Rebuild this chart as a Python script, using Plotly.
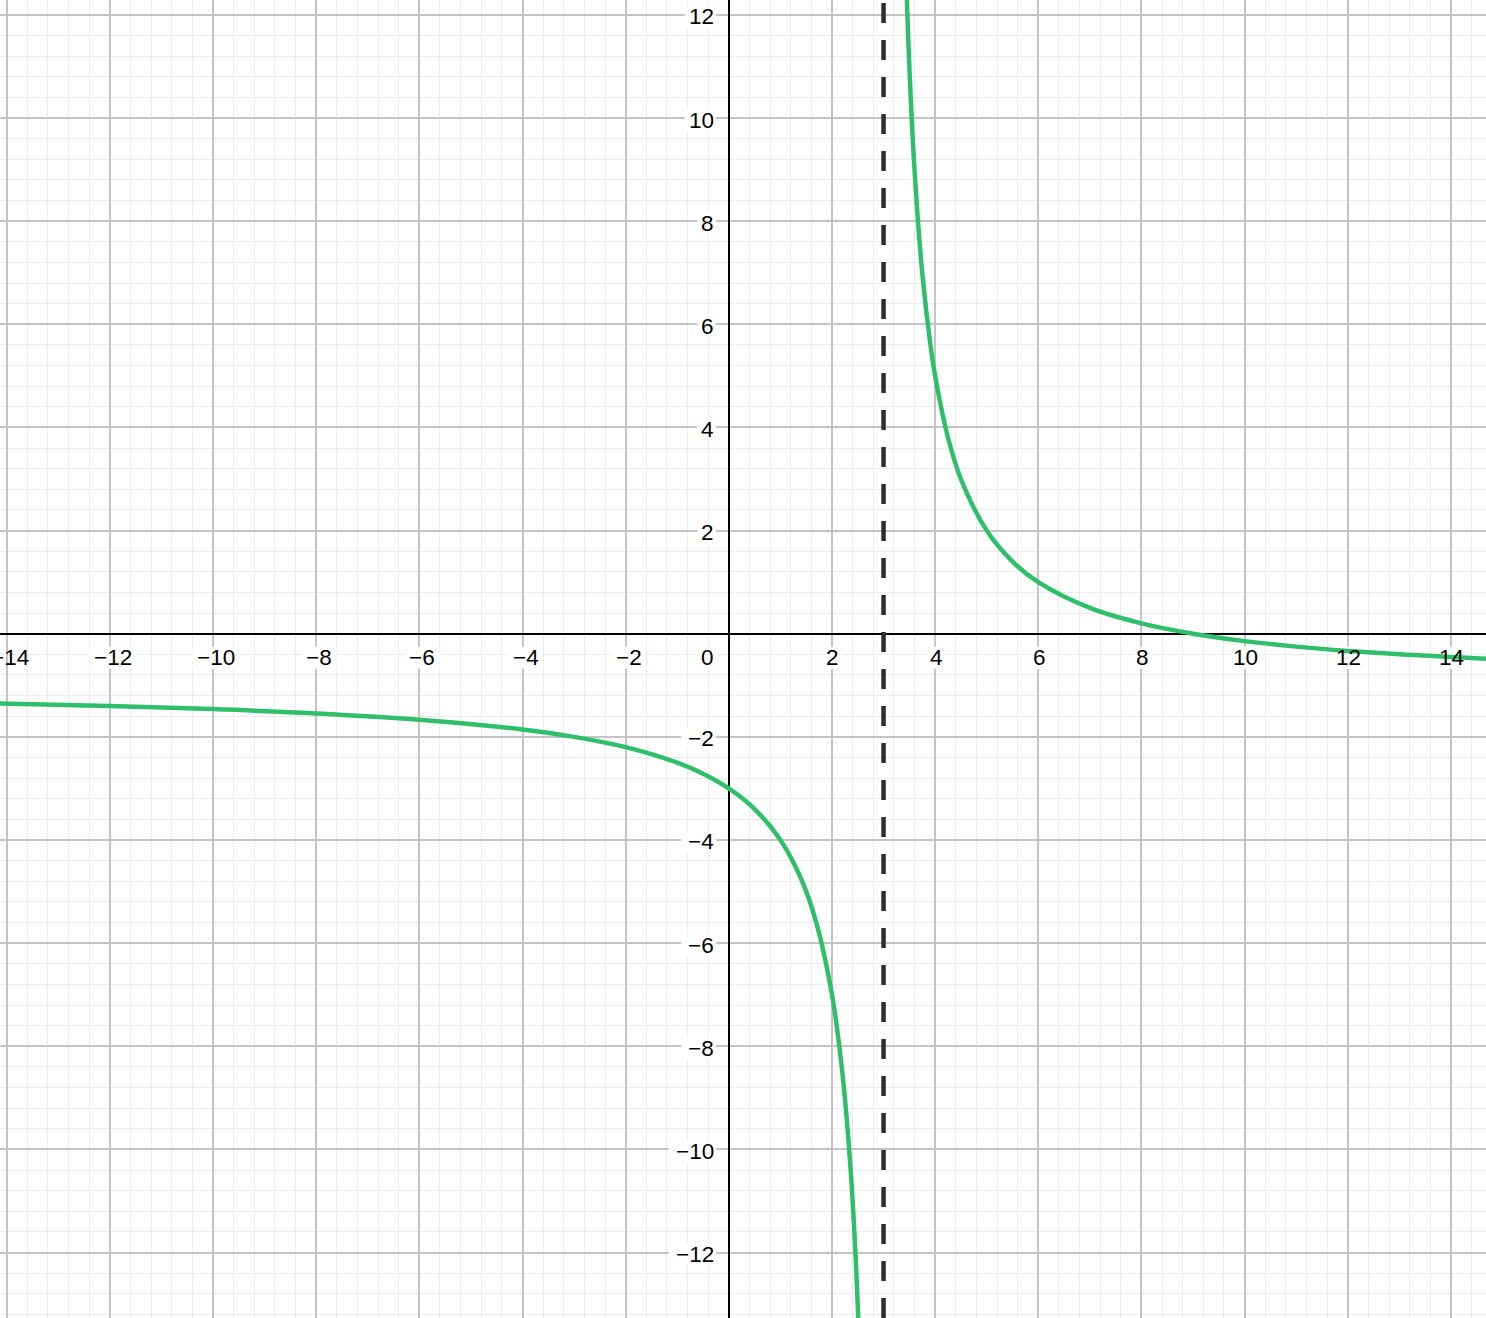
import plotly.graph_objects as go

# ---- data ----
left_x = [-14.3, -12, -10, -8, -6, -4, -3, -2, -1, -0.5, 0, 0.5, 1, 1.4, 1.7, 2.0, 2.2, 2.35, 2.45, 2.55]
left_y = [-1.348, -1.4, -1.462, -1.545, -1.667, -1.857, -2.0, -2.2, -2.5, -2.714, -3.0, -3.4, -4.0, -4.75, -5.615, -7.0, -8.5, -10.23, -11.91, -14.33]

right_x = [3.42, 3.5, 3.6, 3.75, 3.9, 4.0, 4.25, 4.5, 5.0, 5.5, 6.0, 7.0, 8.0, 9.0, 10.0, 11.0, 12.0, 13.0, 14.8]
right_y = [13.29, 11.0, 9.0, 7.0, 5.667, 5.0, 3.8, 3.0, 2.0, 1.4, 1.0, 0.5, 0.2, 0.0, -0.143, -0.25, -0.333, -0.4, -0.492]

asymptote_x = 3

x_ticks = [-14, -12, -10, -8, -6, -4, -2, 2, 4, 6, 8, 10, 12, 14]
y_ticks = [-12, -10, -8, -6, -4, -2, 2, 4, 6, 8, 10, 12]

x_range = [-14.13, 14.68]
y_range = [-13.27, 12.29]

GREEN = "#2fbf6b"
FONT = "Liberation Sans, Arial, sans-serif"
FS = 22.5
XLAB_OFF = 24   # px below x axis (label centre)
YLAB_GAP = 16   # px left of y axis (label right edge)

def lab(v):
    return ("\u2212" + str(abs(v))) if v < 0 else str(v)

def text_w(v):
    s = str(abs(v))
    return len(s) * 0.556 * FS + (16 if v < 0 else 0)

fig = go.Figure()
for xs, ys in [(left_x, left_y), (right_x, right_y)]:
    fig.add_trace(go.Scatter(x=xs, y=ys, mode="lines",
                             line=dict(color=GREEN, width=4.5, shape="spline", smoothing=1.0),
                             hoverinfo="skip", showlegend=False))

fig.add_vline(x=asymptote_x, line=dict(color="#2d2d2d", width=4.5, dash="20px,17px"))

font = dict(family=FONT, size=FS, color="black")
annots = []
shapes = []
halo = dict(type="rect", xref="x", yref="y", xsizemode="pixel", ysizemode="pixel",
            fillcolor="white", line=dict(width=0), layer="between")
for v in x_ticks:
    xs_ = 3 if v < 0 else 1
    annots.append(dict(x=v, y=0, xref="x", yref="y", text=lab(v), showarrow=False,
                       yanchor="middle", xanchor="center", yshift=-XLAB_OFF, xshift=xs_,
                       font=font, borderpad=0))
    w = text_w(v) / 2 + 3
    shapes.append(dict(halo, xanchor=v, yanchor=0, x0=-w + xs_, x1=w + xs_,
                       y0=-XLAB_OFF - 11, y1=-XLAB_OFF + 11))
for v in y_ticks:
    annots.append(dict(x=0, y=v, xref="x", yref="y", text=lab(v), showarrow=False,
                       xanchor="right", yanchor="middle", xshift=-YLAB_GAP + 2, yshift=-2,
                       font=font, borderpad=0))
    shapes.append(dict(halo, xanchor=0, yanchor=v, x0=-YLAB_GAP - text_w(v) - 3,
                       x1=-YLAB_GAP + 3, y0=-13, y1=9))
annots.append(dict(x=0, y=0, xref="x", yref="y", text="0", showarrow=False,
                   xanchor="right", yanchor="middle", xshift=-YLAB_GAP + 2, yshift=-XLAB_OFF,
                   font=font, borderpad=0))
shapes.append(dict(halo, xanchor=0, yanchor=0, x0=-YLAB_GAP - text_w(0) - 3,
                   x1=-YLAB_GAP + 3, y0=-XLAB_OFF - 11, y1=-XLAB_OFF + 11))

axis_common = dict(
    showgrid=True, gridcolor="#c4c4c4", gridwidth=1.5,
    minor=dict(dtick=0.4, showgrid=True, gridcolor="#ebebeb", gridwidth=1),
    dtick=2, tick0=0,
    zeroline=True, zerolinecolor="black", zerolinewidth=2,
    showticklabels=False, ticks="", showline=False, fixedrange=True,
)

fig.update_layout(
    width=1486, height=1318,
    margin=dict(l=0, r=0, t=0, b=0),
    paper_bgcolor="white", plot_bgcolor="white",
    xaxis=dict(range=x_range, **axis_common),
    yaxis=dict(range=y_range, **axis_common),
    annotations=annots,
    shapes=shapes,
    showlegend=False,
)

fig.write_html("out.html", config={"displayModeBar": False},
               post_script="document.body.style.margin='0';document.body.style.overflow='hidden';")
